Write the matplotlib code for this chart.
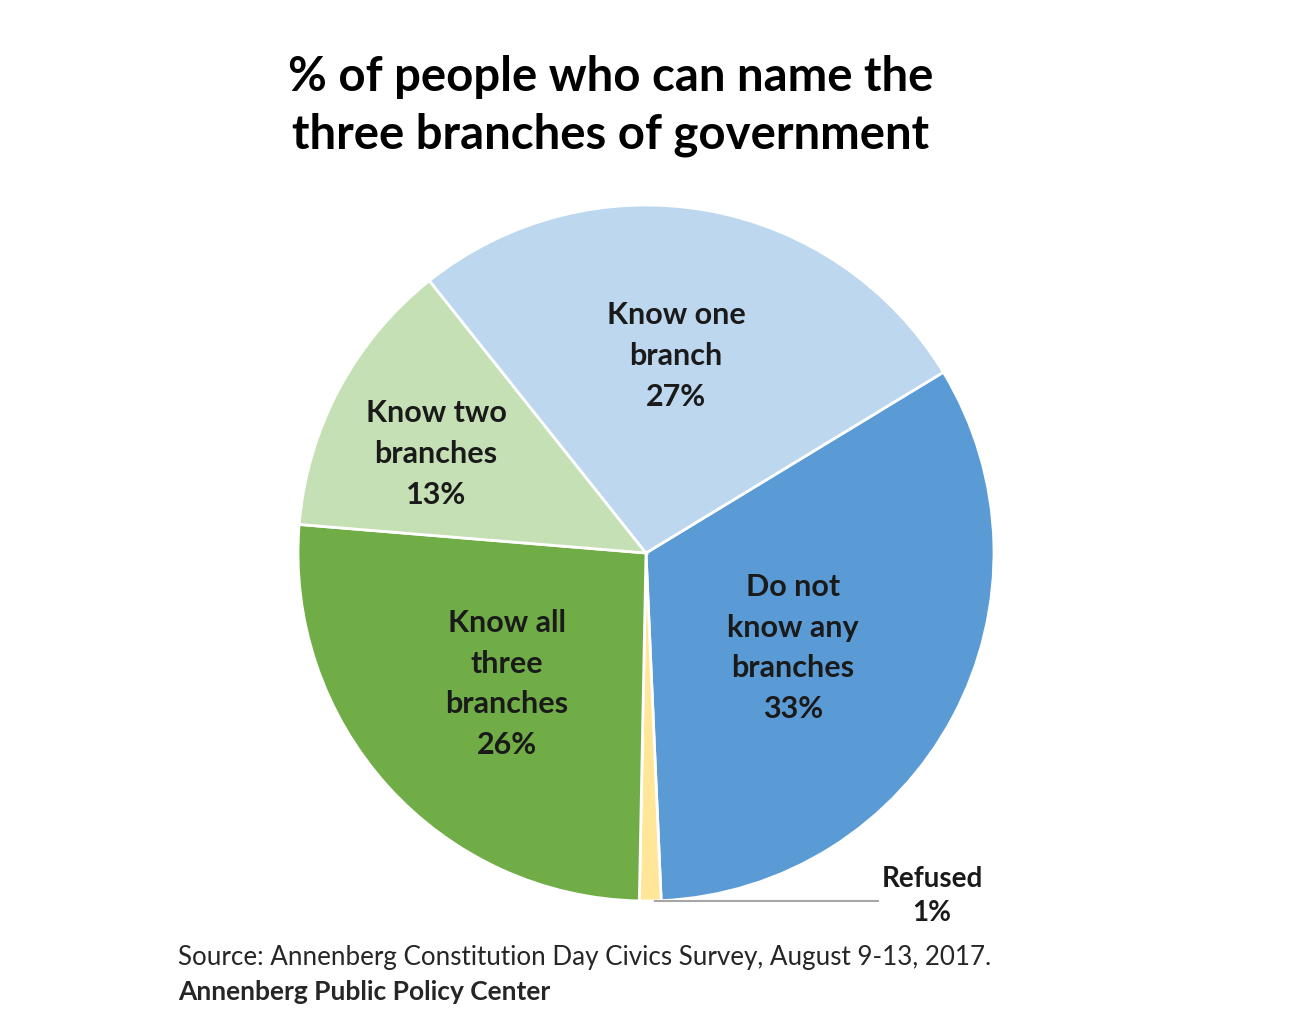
import matplotlib
matplotlib.use("Agg")
import matplotlib.pyplot as plt

categories = ["Do not\nknow any\nbranches", "Refused", "Know all\nthree\nbranches", "Know two\nbranches", "Know one\nbranch"]
values = [33, 1, 26, 13, 27]
colors = ["#5B9BD5", "#FFE699", "#70AD47", "#C5E0B4", "#BDD7EE"]
title = "% of people who can name the\nthree branches of government"
source = "Source: Annenberg Constitution Day Civics Survey, August 9-13, 2017."
org = "Annenberg Public Policy Center"

W, H = 1296, 1021
fig = plt.figure(figsize=(W / 100, H / 100), dpi=100)
plt.rcParams['font.family'] = ['Lato', 'DejaVu Sans']

cx, cy, r = 646, 553, 348
ax = fig.add_axes([(cx - r) / W, (H - cy - r) / H, 2 * r / W, 2 * r / H])
wedges, _ = ax.pie(values, colors=colors, startangle=31.3, counterclock=False,
                   radius=1, wedgeprops=dict(edgecolor="white", linewidth=2))
ax.set_xlim(-1, 1)
ax.set_ylim(-1, 1)
ax.set_aspect("auto")
ax.axis("off")

def px(x, y):
    return (x - cx) / r, (cy - y) / r

label_pos = {
    0: (793, 648),
    2: (507, 684),
    3: (436, 454),
    4: (676, 356),
}
for i, (x, y) in label_pos.items():
    dx, dy = px(x, y)
    ax.text(dx, dy, categories[i] + "\n" + f"{values[i]}%", ha="center", va="center",
            fontsize=22, fontweight="bold", color="#1a1a1a", linespacing=1.55)

# Refused label with leader line
x0, y0 = px(655, 901)
x1, y1 = px(878, 901)
ax.plot([x0, x1], [y0, y1], color="#a6a6a6", lw=1.5, clip_on=False)
tx, ty = px(932, 896)
ax.text(tx, ty, categories[1] + "\n" + f"{values[1]}%", ha="center", va="center",
        fontsize=20, fontweight="bold", color="#1a1a1a", linespacing=1.42)

fig.text(611 / W, 1 - 106 / H, title, ha="center", va="center", fontsize=34,
         fontweight="bold", color="black", linespacing=1.38)
fig.text(178 / W, 1 - 957 / H, source, ha="left", va="center", fontsize=18.7, color="#262626")
fig.text(178 / W, 1 - 992 / H, org, ha="left", va="center", fontsize=19,
         fontweight="bold", color="#262626")

fig.savefig("out.png", dpi=100, facecolor="white")
